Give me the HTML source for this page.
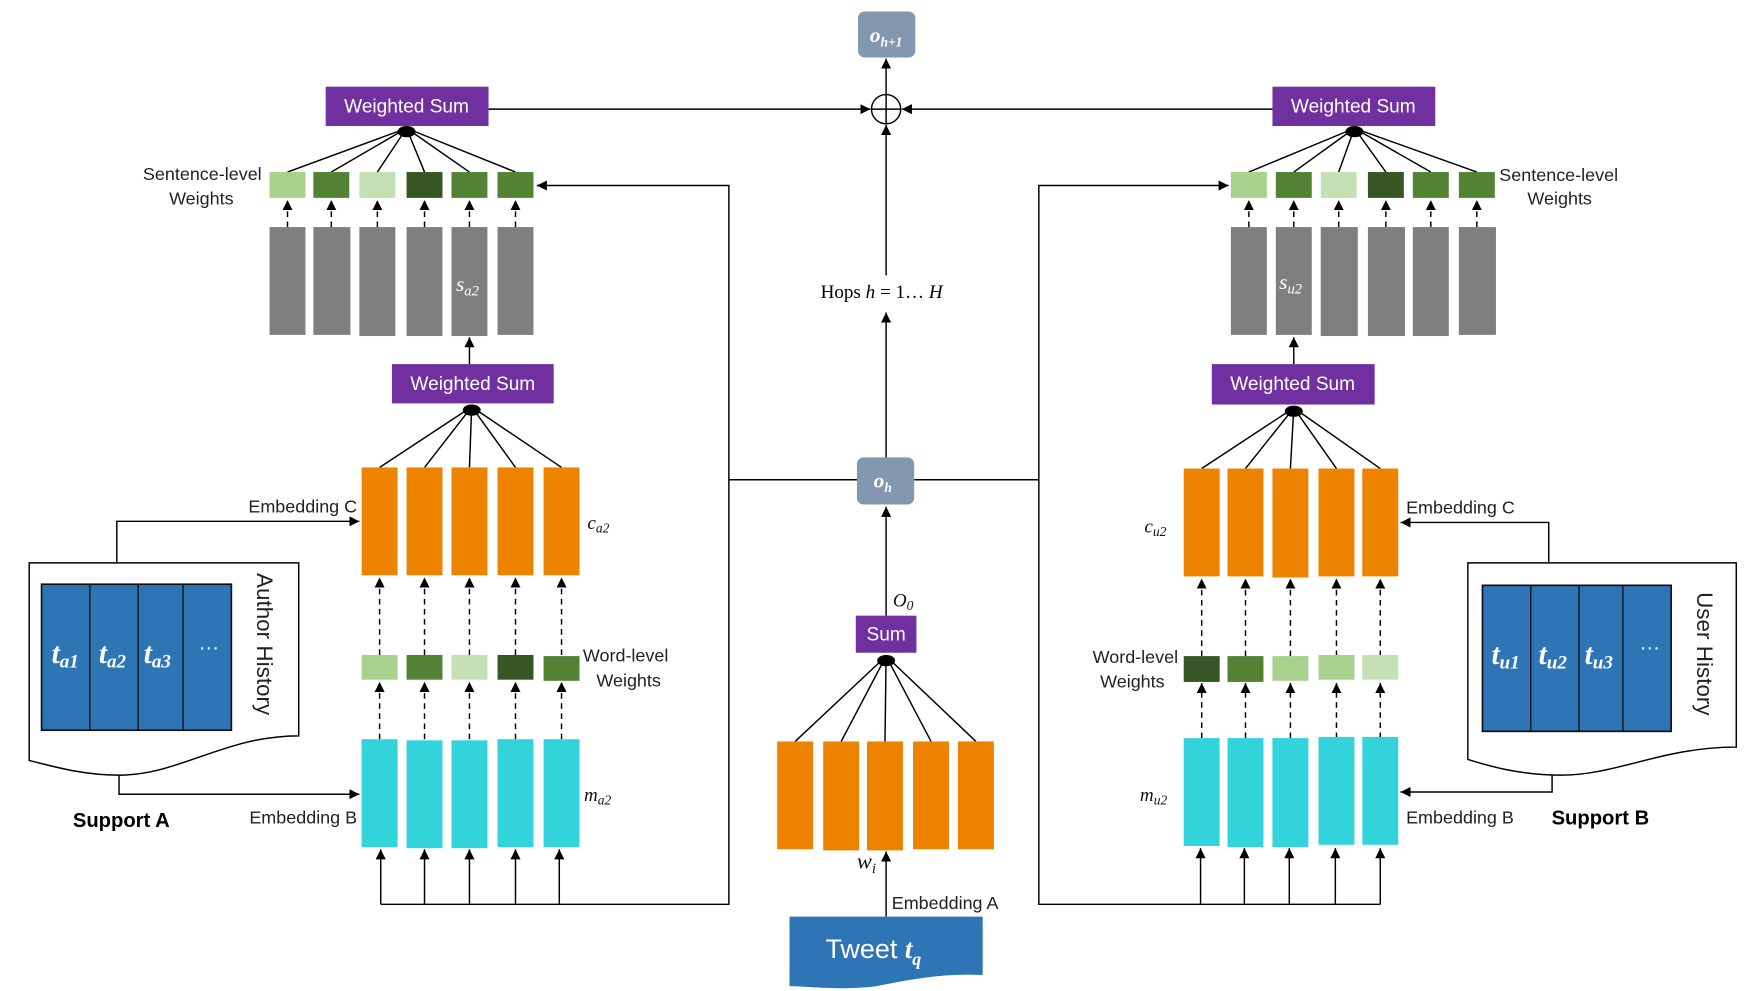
<!DOCTYPE html>
<html><head><meta charset="utf-8"><style>
html,body{margin:0;padding:0;background:#fff;}
svg{display:block;}
.l{font-family:"Liberation Sans",sans-serif;font-size:16px;fill:#222;}
.w{font-family:"Liberation Sans",sans-serif;font-size:17px;fill:#fff;}
.m{font-family:"Liberation Serif",serif;font-style:italic;}
</style></head><body>
<svg width="1752" height="991" viewBox="0 0 1560 882" xmlns="http://www.w3.org/2000/svg">
<defs>
<marker id="a" viewBox="0 0 10 10" refX="10" refY="5" markerWidth="9" markerHeight="9" markerUnits="userSpaceOnUse" orient="auto"><path d="M0,0 L10,5 L0,10 z" fill="#000"/></marker>
</defs>
<g stroke="#000" stroke-width="1.3" fill="none">
<line x1="789" y1="84" x2="789" y2="52" marker-end="url(#a)"/>
<line x1="435" y1="97" x2="775" y2="97" marker-end="url(#a)"/>
<line x1="1133" y1="97" x2="803" y2="97" marker-end="url(#a)"/>
<line x1="789" y1="245" x2="789" y2="111" marker-end="url(#a)"/>
<line x1="789" y1="407" x2="789" y2="278" marker-end="url(#a)"/>
<line x1="789" y1="548" x2="789" y2="451" marker-end="url(#a)"/>
<line x1="789" y1="816" x2="789" y2="758" marker-end="url(#a)"/>
<polyline points="339,805 649,805 649,165 478,165" marker-end="url(#a)"/>
<polyline points="1229,805 925,805 925,165 1094,165" marker-end="url(#a)"/>
<line x1="649" y1="427" x2="763" y2="427"/>
<line x1="814" y1="427" x2="925" y2="427"/>
<polyline points="104,520 104,464 320,464" marker-end="url(#a)"/>
<polyline points="106,650 106,707 320,707" marker-end="url(#a)"/>
<polyline points="1379,520 1379,465 1247,465" marker-end="url(#a)"/>
<polyline points="1382,650 1382,705 1247,705" marker-end="url(#a)"/>
<g>
<line x1="256" y1="153" x2="362" y2="114"/><line x1="295" y1="153" x2="362" y2="114"/><line x1="336" y1="153" x2="362" y2="114"/><line x1="378" y1="153" x2="362" y2="114"/><line x1="418" y1="153" x2="362" y2="114"/><line x1="459" y1="153" x2="362" y2="114"/>
<line x1="1112" y1="153" x2="1206" y2="114"/><line x1="1152" y1="153" x2="1206" y2="114"/><line x1="1192" y1="153" x2="1206" y2="114"/><line x1="1234" y1="153" x2="1206" y2="114"/><line x1="1274" y1="153" x2="1206" y2="114"/><line x1="1315" y1="153" x2="1206" y2="114"/>
<line x1="338" y1="416" x2="420" y2="362"/><line x1="378" y1="416" x2="420" y2="362"/><line x1="418" y1="416" x2="420" y2="362"/><line x1="459" y1="416" x2="420" y2="362"/><line x1="500" y1="416" x2="420" y2="362"/>
<line x1="1070" y1="417" x2="1152" y2="363"/><line x1="1109" y1="417" x2="1152" y2="363"/><line x1="1149" y1="417" x2="1152" y2="363"/><line x1="1190" y1="417" x2="1152" y2="363"/><line x1="1229" y1="417" x2="1152" y2="363"/>
<line x1="708" y1="660" x2="789" y2="584"/><line x1="749" y1="660" x2="789" y2="584"/><line x1="788" y1="660" x2="789" y2="584"/><line x1="829" y1="660" x2="789" y2="584"/><line x1="869" y1="660" x2="789" y2="584"/>
</g>
<line x1="418" y1="324" x2="418" y2="300" marker-end="url(#a)"/>
<line x1="1152" y1="324" x2="1152" y2="300" marker-end="url(#a)"/>
<g>
<line x1="339" y1="805" x2="339" y2="756" marker-end="url(#a)"/><line x1="378" y1="805" x2="378" y2="756" marker-end="url(#a)"/><line x1="418" y1="805" x2="418" y2="756" marker-end="url(#a)"/><line x1="459" y1="805" x2="459" y2="756" marker-end="url(#a)"/><line x1="498" y1="805" x2="498" y2="756" marker-end="url(#a)"/>
<line x1="1069" y1="805" x2="1069" y2="755" marker-end="url(#a)"/><line x1="1108" y1="805" x2="1108" y2="755" marker-end="url(#a)"/><line x1="1148" y1="805" x2="1148" y2="755" marker-end="url(#a)"/><line x1="1189" y1="805" x2="1189" y2="755" marker-end="url(#a)"/><line x1="1229" y1="805" x2="1229" y2="755" marker-end="url(#a)"/>
</g>
<g stroke-dasharray="5,4">
<line x1="256" y1="202" x2="256" y2="178" marker-end="url(#a)"/><line x1="295" y1="202" x2="295" y2="178" marker-end="url(#a)"/><line x1="336" y1="202" x2="336" y2="178" marker-end="url(#a)"/><line x1="378" y1="202" x2="378" y2="178" marker-end="url(#a)"/><line x1="418" y1="202" x2="418" y2="178" marker-end="url(#a)"/><line x1="459" y1="202" x2="459" y2="178" marker-end="url(#a)"/>
<line x1="1112" y1="202" x2="1112" y2="178" marker-end="url(#a)"/><line x1="1152" y1="202" x2="1152" y2="178" marker-end="url(#a)"/><line x1="1192" y1="202" x2="1192" y2="178" marker-end="url(#a)"/><line x1="1234" y1="202" x2="1234" y2="178" marker-end="url(#a)"/><line x1="1274" y1="202" x2="1274" y2="178" marker-end="url(#a)"/><line x1="1315" y1="202" x2="1315" y2="178" marker-end="url(#a)"/>
<line x1="338" y1="658" x2="338" y2="607" marker-end="url(#a)"/><line x1="378" y1="658" x2="378" y2="607" marker-end="url(#a)"/><line x1="418" y1="658" x2="418" y2="607" marker-end="url(#a)"/><line x1="459" y1="658" x2="459" y2="607" marker-end="url(#a)"/><line x1="500" y1="658" x2="500" y2="607" marker-end="url(#a)"/>
<line x1="338" y1="583" x2="338" y2="514" marker-end="url(#a)"/><line x1="378" y1="583" x2="378" y2="514" marker-end="url(#a)"/><line x1="418" y1="583" x2="418" y2="514" marker-end="url(#a)"/><line x1="459" y1="583" x2="459" y2="514" marker-end="url(#a)"/><line x1="500" y1="583" x2="500" y2="514" marker-end="url(#a)"/>
<line x1="1070" y1="657" x2="1070" y2="608" marker-end="url(#a)"/><line x1="1109" y1="657" x2="1109" y2="608" marker-end="url(#a)"/><line x1="1149" y1="657" x2="1149" y2="608" marker-end="url(#a)"/><line x1="1190" y1="657" x2="1190" y2="608" marker-end="url(#a)"/><line x1="1229" y1="657" x2="1229" y2="608" marker-end="url(#a)"/>
<line x1="1070" y1="584" x2="1070" y2="515" marker-end="url(#a)"/><line x1="1109" y1="584" x2="1109" y2="515" marker-end="url(#a)"/><line x1="1149" y1="584" x2="1149" y2="515" marker-end="url(#a)"/><line x1="1190" y1="584" x2="1190" y2="515" marker-end="url(#a)"/><line x1="1229" y1="584" x2="1229" y2="515" marker-end="url(#a)"/>
</g>
<circle cx="789" cy="97" r="13"/><line x1="776" y1="97" x2="802" y2="97"/><line x1="789" y1="84" x2="789" y2="110"/>
<path d="M26,501 H266 V655 C200,655 160,690 106,690 C70,690 40,680 26,677 Z" fill="#fff"/>
<path d="M1307,501 H1546 V665 C1480,665 1440,690 1390,690 C1350,690 1320,680 1307,676 Z" fill="#fff"/>
</g>
<g fill="#000">
<ellipse cx="362" cy="117" rx="8" ry="5"/><ellipse cx="1206" cy="117" rx="8" ry="5"/><ellipse cx="420" cy="365" rx="8" ry="5"/><ellipse cx="1152" cy="366" rx="8" ry="5"/><ellipse cx="789" cy="588" rx="8" ry="5"/>
</g>
<rect x="764" y="10" width="51" height="41" rx="6" fill="#8497b0"/>
<text x="789" y="37" text-anchor="middle" fill="#fff" class="m" font-size="19" font-weight="bold">o<tspan font-size="12" dy="4">h+1</tspan></text>
<rect x="763" y="407" width="51" height="42" rx="6" fill="#8497b0"/>
<text x="786" y="434" text-anchor="middle" fill="#fff" class="m" font-size="19" font-weight="bold">o<tspan font-size="12" dy="4">h</tspan></text>
<g fill="#7030a0">
<rect x="290" y="77" width="145" height="35"/><rect x="1133" y="77" width="145" height="35"/>
<rect x="349" y="324" width="144" height="35"/><rect x="1079" y="324" width="145" height="36"/>
<rect x="762" y="548" width="54" height="33"/>
</g>
<text class="w" x="362" y="100" text-anchor="middle">Weighted Sum</text>
<text class="w" x="1205" y="100" text-anchor="middle">Weighted Sum</text>
<text class="w" x="421" y="347" text-anchor="middle">Weighted Sum</text>
<text class="w" x="1151" y="347" text-anchor="middle">Weighted Sum</text>
<text class="w" x="789" y="570" text-anchor="middle">Sum</text>
<rect x="240" y="153" width="32" height="23" fill="#a9d18e"/><rect x="279" y="153" width="32" height="23" fill="#548235"/><rect x="320" y="153" width="32" height="23" fill="#c5e0b4"/><rect x="362" y="153" width="32" height="23" fill="#375623"/><rect x="402" y="153" width="32" height="23" fill="#548235"/><rect x="443" y="153" width="32" height="23" fill="#548235"/>
<rect x="1096" y="153" width="32" height="23" fill="#a9d18e"/><rect x="1136" y="153" width="32" height="23" fill="#548235"/><rect x="1176" y="153" width="32" height="23" fill="#c5e0b4"/><rect x="1218" y="153" width="32" height="23" fill="#375623"/><rect x="1258" y="153" width="32" height="23" fill="#548235"/><rect x="1299" y="153" width="32" height="23" fill="#548235"/>
<g fill="#7f7f7f">
<rect x="240" y="202" width="32" height="96"/><rect x="279" y="202" width="33" height="96"/><rect x="320" y="202" width="32" height="97"/><rect x="362" y="202" width="32" height="97"/><rect x="402" y="202" width="32" height="97"/><rect x="443" y="202" width="32" height="96"/>
<rect x="1096" y="202" width="32" height="96"/><rect x="1136" y="202" width="32" height="96"/><rect x="1176" y="202" width="33" height="97"/><rect x="1218" y="202" width="33" height="97"/><rect x="1258" y="202" width="32" height="97"/><rect x="1299" y="202" width="33" height="96"/>
</g>
<text x="406" y="259" fill="#fff" class="m" font-size="19">s<tspan font-size="13" dy="4">a2</tspan></text>
<text x="1139" y="257" fill="#fff" class="m" font-size="19">s<tspan font-size="13" dy="4">u2</tspan></text>
<g fill="#ee8300">
<rect x="322" y="416" width="32" height="96"/><rect x="362" y="416" width="32" height="96"/><rect x="402" y="416" width="32" height="96"/><rect x="443" y="416" width="32" height="96"/><rect x="484" y="416" width="32" height="96"/>
<rect x="1054" y="417" width="32" height="96"/><rect x="1093" y="417" width="32" height="96"/><rect x="1133" y="417" width="32" height="97"/><rect x="1174" y="417" width="32" height="96"/><rect x="1213" y="417" width="32" height="96"/>
<rect x="692" y="660" width="32" height="96"/><rect x="733" y="660" width="32" height="97"/><rect x="772" y="660" width="32" height="97"/><rect x="813" y="660" width="32" height="96"/><rect x="853" y="660" width="32" height="96"/>
</g>
<rect x="322" y="583" width="32" height="22" fill="#a9d18e"/><rect x="362" y="583" width="32" height="22" fill="#548235"/><rect x="402" y="583" width="32" height="22" fill="#c5e0b4"/><rect x="443" y="583" width="32" height="22" fill="#375623"/><rect x="484" y="584" width="32" height="22" fill="#548235"/>
<rect x="1054" y="584" width="32" height="23" fill="#375623"/><rect x="1093" y="584" width="32" height="23" fill="#548235"/><rect x="1133" y="584" width="32" height="22" fill="#a9d18e"/><rect x="1174" y="583" width="32" height="22" fill="#a9d18e"/><rect x="1213" y="583" width="32" height="22" fill="#c5e0b4"/>
<g fill="#33d3dc">
<rect x="322" y="658" width="32" height="96"/><rect x="362" y="659" width="32" height="96"/><rect x="402" y="659" width="32" height="96"/><rect x="443" y="658" width="32" height="96"/><rect x="484" y="658" width="32" height="96"/>
<rect x="1054" y="657" width="32" height="96"/><rect x="1093" y="657" width="32" height="97"/><rect x="1133" y="657" width="32" height="97"/><rect x="1174" y="656" width="32" height="96"/><rect x="1213" y="656" width="32" height="96"/>
</g>
<rect x="37" y="520" width="169" height="130" fill="#2e75b6" stroke="#111" stroke-width="1.5"/>
<g stroke="#111" stroke-width="1.2"><line x1="80" y1="520" x2="80" y2="650"/><line x1="123" y1="520" x2="123" y2="650"/><line x1="163" y1="520" x2="163" y2="650"/></g>
<rect x="1320" y="521" width="168" height="130" fill="#2e75b6" stroke="#111" stroke-width="1.5"/>
<g stroke="#111" stroke-width="1.2"><line x1="1363" y1="521" x2="1363" y2="651"/><line x1="1406" y1="521" x2="1406" y2="651"/><line x1="1445" y1="521" x2="1445" y2="651"/></g>
<g fill="#fff" class="m" font-size="26" font-weight="bold">
<text x="46" y="590">t<tspan font-size="17" dy="4">a1</tspan></text>
<text x="88" y="590">t<tspan font-size="17" dy="4">a2</tspan></text>
<text x="128" y="590">t<tspan font-size="17" dy="4">a3</tspan></text>
<text x="1328" y="591">t<tspan font-size="17" dy="4">u1</tspan></text>
<text x="1370" y="591">t<tspan font-size="17" dy="4">u2</tspan></text>
<text x="1411" y="591">t<tspan font-size="17" dy="4">u3</tspan></text>
</g>
<text x="186" y="582" fill="#fff" font-family="Liberation Sans" font-size="18" text-anchor="middle">···</text>
<text x="1469" y="582" fill="#fff" font-family="Liberation Sans" font-size="18" text-anchor="middle">···</text>
<text style="font-family:'Liberation Sans',sans-serif;font-size:20px;fill:#222" transform="translate(229,510) rotate(90)">Author History</text>
<text style="font-family:'Liberation Sans',sans-serif;font-size:20px;fill:#222" transform="translate(1511,527) rotate(90)">User History</text>
<path d="M703,816 H875 V868 C840,866 810,872 780,878 C750,882 720,878 703,878 Z" fill="#2e75b6"/>
<text x="735" y="853" fill="#fff" font-family="Liberation Sans" font-size="24">Tweet <tspan class="m" font-weight="bold">t</tspan><tspan class="m" font-weight="bold" font-size="16" dy="6">q</tspan></text>
<text class="l" x="233" y="160" text-anchor="end">Sentence-level</text>
<text class="l" x="208" y="182" text-anchor="end">Weights</text>
<text class="l" x="1335" y="161">Sentence-level</text>
<text class="l" x="1360" y="182">Weights</text>
<text class="l" x="318" y="456" text-anchor="end">Embedding C</text>
<text class="l" x="1252" y="457">Embedding C</text>
<text class="l" x="318" y="733" text-anchor="end">Embedding B</text>
<text class="l" x="1252" y="733">Embedding B</text>
<text class="l" x="519" y="589">Word-level</text>
<text class="l" x="531" y="611">Weights</text>
<text class="l" x="1049" y="590" text-anchor="end">Word-level</text>
<text class="l" x="1037" y="612" text-anchor="end">Weights</text>
<text class="l" x="794" y="809">Embedding A</text>
<text x="108" y="736" font-family="Liberation Sans" font-size="18" font-weight="bold" text-anchor="middle">Support A</text>
<text x="1425" y="734" font-family="Liberation Sans" font-size="18" font-weight="bold" text-anchor="middle">Support B</text>
<text x="785" y="265" font-family="Liberation Serif" font-size="17" text-anchor="middle">Hops <tspan font-style="italic">h</tspan> = 1… <tspan font-style="italic">H</tspan></text>
<g class="m" font-size="17" fill="#111">
<text x="523" y="471">c<tspan font-size="12" dy="3">a2</tspan></text>
<text x="1019" y="474">c<tspan font-size="12" dy="3">u2</tspan></text>
<text x="520" y="713">m<tspan font-size="12" dy="3">a2</tspan></text>
<text x="1015" y="713">m<tspan font-size="12" dy="3">u2</tspan></text>
<text x="795" y="540">O<tspan font-size="12" dy="3">0</tspan></text>
<text x="763" y="773" font-size="20">w<tspan font-size="13" dy="4">i</tspan></text>
</g>
</svg>
</body></html>
